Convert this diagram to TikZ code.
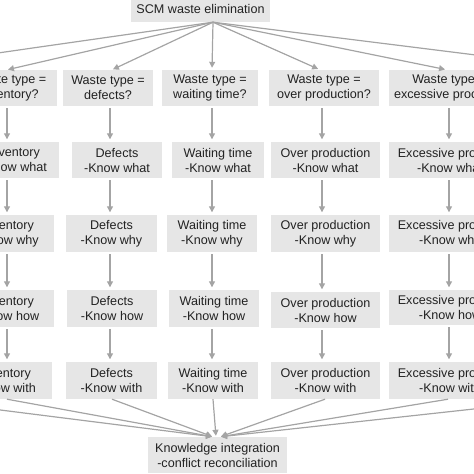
\documentclass[tikz,border=0pt]{standalone}
\usepackage{fontspec}
\setmainfont{Liberation Sans}
\usetikzlibrary{arrows.meta}
\definecolor{boxgray}{HTML}{E6E6E6}
\definecolor{linegray}{HTML}{A4A4A4}
\definecolor{txt}{HTML}{222222}
\begin{document}
\begin{tikzpicture}[x=1pt,y=-1pt,
  bx/.style={fill=boxgray,draw=none,inner sep=0pt,align=center,text=txt,
    font=\fontsize{12.6}{15}\selectfont},
  arr/.style={draw=linegray,line width=1.2pt,-{Triangle[length=6pt,width=6pt]}},
  vline/.style={arr,shorten <=2pt,shorten >=2.5pt}]
\useasboundingbox (0,0) rectangle (474,474);
% column x positions
\coordinate (cA) at (7,0);
\coordinate (cB) at (110,0);
\coordinate (cC) at (212,0);
\coordinate (cD) at (322,0);
\coordinate (cE) at (449,0);
% top
\node[bx,minimum width=139pt,minimum height=26pt] (top) at (200.5,9) {SCM waste elimination};
% row 1
\node[bx,minimum width=95pt,minimum height=36pt] (a1) at (9.5,88) {Waste type =\\inventory?};
\node[bx,minimum width=90pt,minimum height=36pt] (b1) at (108,88) {Waste type =\\defects?};
\node[bx,minimum width=96pt,minimum height=36pt] (c1) at (210,88) {Waste type =\\waiting time?};
\node[bx,minimum width=110pt,minimum height=36pt] (d1) at (324,88) {Waste type =\\over production?};
\node[bx,minimum width=120pt,minimum height=36pt] (e1) at (449,88) {Waste type =\\excessive process?};
% row 2
\node[bx,minimum width=90pt,minimum height=36pt] (a2) at (14,160) {Inventory\\-Know what};
\node[bx,minimum width=90pt,minimum height=36pt] (b2) at (117,160) {Defects\\-Know what};
\node[bx,minimum width=92pt,minimum height=36pt] (c2) at (218,160) {Waiting time\\-Know what};
\node[bx,minimum width=109pt,minimum height=36pt] (d2) at (325.5,160) {Over production\\-Know what};
\node[bx,minimum width=122pt,minimum height=36pt] (e2) at (450,160) {Excessive process\\-Know what};
% row 3
\node[bx,minimum width=92pt,minimum height=37pt] (a3) at (8,233.5) {Inventory\\-Know why};
\node[bx,minimum width=91pt,minimum height=37pt] (b3) at (111.5,233.5) {Defects\\-Know why};
\node[bx,minimum width=90pt,minimum height=37pt] (c3) at (212,233.5) {Waiting time\\-Know why};
\node[bx,minimum width=109pt,minimum height=37pt] (d3) at (325.5,233.5) {Over production\\-Know why};
\node[bx,minimum width=122pt,minimum height=37pt] (e3) at (450,233.5) {Excessive process\\-Know why};
% row 4
\node[bx,minimum width=92pt,minimum height=37pt] (a4) at (8,308.5) {Inventory\\-Know how};
\node[bx,minimum width=90pt,minimum height=37pt] (b4) at (112,308.5) {Defects\\-Know how};
\node[bx,minimum width=90pt,minimum height=37pt] (c4) at (214,308.5) {Waiting time\\-Know how};
\node[bx,minimum width=109pt,minimum height=36pt] (d4) at (325.5,310) {Over production\\-Know how};
\node[bx,minimum width=122pt,minimum height=35pt] (e4) at (450,307.5) {Excessive process\\-Know how};
% row 5
\node[bx,minimum width=94pt,minimum height=37pt] (a5) at (5,380.5) {Inventory\\-Know with};
\node[bx,minimum width=91pt,minimum height=37pt] (b5) at (111.5,380.5) {Defects\\-Know with};
\node[bx,minimum width=90pt,minimum height=37pt] (c5) at (213,380.5) {Waiting time\\-Know with};
\node[bx,minimum width=109pt,minimum height=37pt] (d5) at (325.5,380.5) {Over production\\-Know with};
\node[bx,minimum width=122pt,minimum height=37pt] (e5) at (450,380.5) {Excessive process\\-Know with};
% bottom
\node[bx,minimum width=139pt,minimum height=36pt] (kb) at (217.5,455) {Knowledge integration\\-conflict reconciliation};
% off-page line ends
\coordinate (offTL) at (-121,70);
\coordinate (offTR) at (596,70);
\coordinate (offBL) at (-87,399);
\coordinate (offBR) at (565,399);
% top fan
\coordinate (src) at ([xshift=12.5pt]top.south);
\draw[arr] (src) -- (offTL);
\draw[arr,shorten >=1pt] (src) -- (a1.north -| cA);
\draw[arr,shorten >=1pt] (src) -- ([xshift=2pt]b1.north -| cB);
\draw[arr,shorten >=2pt] (src) -- (c1.north -| cC);
\draw[arr,shorten >=2pt] (src) -- ([xshift=-2pt]d1.north -| cD);
\draw[arr,shorten >=2pt] (src) -- ([xshift=-2pt]e1.north -| cE);
\draw[arr] (src) -- (offTR);
% vertical chains
\foreach \c/\col in {a/cA,b/cB,c/cC,d/cD,e/cE}{
  \draw[vline] (\c1.south -| \col) -- (\c2.north -| \col);
  \draw[vline] (\c2.south -| \col) -- (\c3.north -| \col);
  \draw[vline] (\c3.south -| \col) -- (\c4.north -| \col);
  \draw[vline] (\c4.south -| \col) -- (\c5.north -| \col);
}
% bottom fan
\draw[arr,shorten >=1pt] (offBL) -- ([xshift=-4.5pt]kb.north);
\draw[arr,shorten >=1pt] (a5.south -| cA) -- ([xshift=-4.5pt]kb.north);
\draw[arr,shorten >=1pt] ([xshift=2pt]b5.south -| cB) -- ([xshift=-4.5pt]kb.north);
\draw[arr,shorten >=1pt] ([xshift=1pt]c5.south -| cC) -- ([xshift=-1.5pt]kb.north);
\draw[arr,shorten >=1pt] ([xshift=3pt]d5.south -| cD) -- ([xshift=2.5pt]kb.north);
\draw[arr,shorten >=1pt] ([xshift=-1pt]e5.south -| cE) -- ([xshift=2.5pt]kb.north);
\draw[arr,shorten >=1pt] (offBR) -- ([xshift=2.5pt]kb.north);
\end{tikzpicture}
\end{document}
